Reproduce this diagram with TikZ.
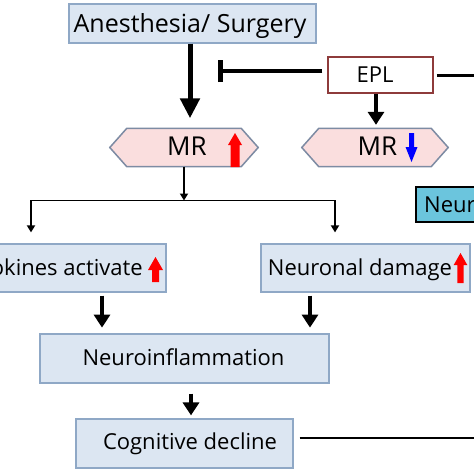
\documentclass[tikz,border=0pt]{standalone}
\usepackage{fontspec}
\setmainfont{Open Sans}
\usetikzlibrary{arrows.meta}
\definecolor{boxfill}{HTML}{DCE6F2}
\definecolor{boxline}{HTML}{8FA8C6}
\definecolor{hexfill}{HTML}{FADEDE}
\definecolor{hexline}{HTML}{7D8BA3}
\definecolor{eplline}{HTML}{8E3B3B}
\definecolor{neurfill}{HTML}{6BC5DD}
\definecolor{markred}{HTML}{FF0000}
\definecolor{markblue}{HTML}{0000FF}
\begin{document}
\begin{tikzpicture}[x=1pt,y=-1pt,
  every node/.style={font=\fontsize{22}{26}\selectfont, inner sep=0pt, text height=16pt, text depth=0pt},
  titlefont/.style={font=\fontsize{25}{29}\selectfont, text height=17pt},
  mrfont/.style={font=\fontsize{26}{30}\selectfont, text height=18pt},
  bluebox/.style={draw=boxline, fill=boxfill, line width=1.2pt},
  hexframe/.style={draw=hexline, fill=hexfill, line width=1.5pt, line join=miter},
  bigarrow/.style={line width=5pt, -{Triangle[width=19pt,length=20pt]}},
  midarrow/.style={line width=4.5pt, -{Triangle[width=16pt,length=13pt]}},
  thinarrow/.style={line width=1.8pt, -{Triangle[width=8pt,length=7pt]}},
  blockline/.style={line width=4.5pt},
  bigup/.pic={\fill[markred] (-4.5,0) -- (-4.5,-22) -- (-7,-22) -- (0,-34) -- (7,-22) -- (4.5,-22) -- (4.5,0) -- cycle;},
  smallup/.pic={\fill[markred] (-3.5,0) -- (-3.5,-12) -- (-7.5,-12) -- (0,-25) -- (7.5,-12) -- (3.5,-12) -- (3.5,0) -- cycle;},
  tallup/.pic={\fill[markred] (-3.2,0) -- (-3.2,-18) -- (-6.8,-18) -- (0,-30) -- (6.8,-18) -- (3.2,-18) -- (3.2,0) -- cycle;},
  downmark/.pic={\fill[markblue] (-2.5,0) -- (-2.5,14) -- (-6,14) -- (0,29) -- (6,14) -- (2.5,14) -- (2.5,0) -- cycle;},
]
\useasboundingbox (0,0) rectangle (474,474);
\fill[white] (0,0) rectangle (474,474);
\clip (0,0) rectangle (474,474);

% top box
\node[bluebox, minimum width=247pt, minimum height=39pt] (anes) at (192.5,23.5) {};
\node[titlefont] (anestxt) at (190,23.5) {Anesthesia/ Surgery};

% EPL box
\node[draw=eplline, fill=white, line width=1.5pt, minimum width=105pt, minimum height=36pt] (epl) at (380.5,75) {};
\node (epltxt) at (375,74.5) {EPL};

% hexagons
\node[minimum width=148pt, minimum height=38pt] (mrL) at (184,147.5) {};
\draw[hexframe] (mrL.west) -- ([xshift=17pt]mrL.north west) -- ([xshift=-17pt]mrL.north east) -- (mrL.east) -- ([xshift=-17pt]mrL.south east) -- ([xshift=17pt]mrL.south west) -- cycle;
\node[mrfont] (mrLtxt) at (187,146.5) {MR};
\pic (redL) at (235,167) {bigup};

\node[minimum width=146pt, minimum height=38pt] (mrR) at (375,147.5) {};
\draw[hexframe] (mrR.west) -- ([xshift=17pt]mrR.north west) -- ([xshift=-17pt]mrR.north east) -- (mrR.east) -- ([xshift=-17pt]mrR.south east) -- ([xshift=17pt]mrR.south west) -- cycle;
\node[mrfont] (mrRtxt) at (377.5,146.5) {MR};
\pic (blueR) at (411.5,133) {downmark};

% cyan box at the right edge
\node[draw=black, fill=neurfill, line width=1.6pt, minimum width=100pt, minimum height=35pt] (neurbox) at (466,204.5) {};
\node[anchor=west] (neurtxt) at (424,204.5) {Neur};

% second row
\node[bluebox, minimum width=226pt, minimum height=48pt] (cyto) at (53,268) {};
\node[anchor=east] (cytotxt) at (143,267) {Cytokines activate};
\pic (redC) at (155.5,282) {smallup};

\node[bluebox, minimum width=209pt, minimum height=48pt] (dmg) at (365.5,268) {};
\node (dmgtxt) at (360,267) {Neuronal damage};
\pic (redD) at (460.5,283) {tallup};

% lower boxes
\node[bluebox, minimum width=289pt, minimum height=49pt] (infl) at (184.5,358.5) {};
\node (infltxt) at (183.5,357) {Neuroinflammation};

\node[bluebox, minimum width=217pt, minimum height=49pt] (cog) at (184.5,443.5) {};
\node (cogtxt) at (190,441.5) {Cognitive decline};

% connectors
\draw[bigarrow, shorten >=10pt] ([xshift=-2.5pt]anes.south) -- ([xshift=6pt]mrL.north);
\coordinate (bar) at (218,71);
\draw[blockline, -{Bar[width=22pt]}, shorten <=5pt] ([yshift=4pt]epl.west) -- (bar);
\coordinate (eplout) at (480,75);
\draw[line width=3pt, shorten <=3pt] (epl.east) -- (eplout);
\draw[midarrow, shorten >=3.5pt] ([xshift=-4.5pt]epl.south) -- ([xshift=1pt]mrR.north);

\coordinate (split) at (184,200.5);
\coordinate (tl) at (31,200.5);
\coordinate (tr) at (335,200.5);
\draw[thinarrow] (mrL.south) -- (split);
\draw[thinarrow, shorten >=11pt] (split) -| (tl |- cyto.north);
\draw[thinarrow, shorten >=11pt] (split) -| (tr |- dmg.north);

\draw[midarrow] ([xshift=49pt,yshift=-3pt]cyto.south) -- ++(0,32);
\draw[midarrow] ([xshift=-55.5pt,yshift=-3pt]dmg.south) -- ++(0,32);
\draw[midarrow, shorten <=10pt, shorten >=3pt] ([xshift=6.5pt]infl.south) -- ([xshift=6.5pt]cog.north);

\coordinate (cogout) at (480,438);
\draw[line width=2.5pt, shorten <=6pt] ([yshift=5.5pt]cog.east) -- (cogout);
\end{tikzpicture}
\end{document}
